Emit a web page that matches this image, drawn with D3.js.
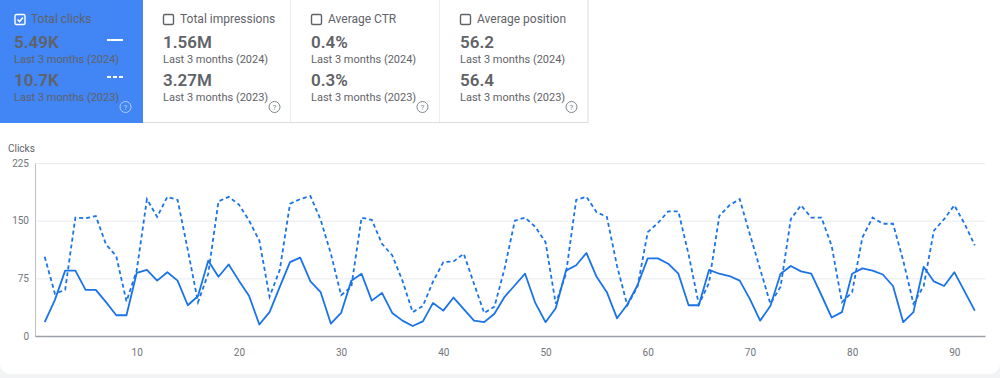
<!DOCTYPE html>
<html>
<head>
<meta charset="utf-8">
<script src="https://cdn.jsdelivr.net/npm/d3@7"></script>
<style>
  body { margin: 0; background: #f1f3f4; font-family: Roboto, "Noto Sans", sans-serif; }
  svg { display: block; }
</style>
</head>
<body>
<svg width="1000" height="378"></svg>
<script>
// daily clicks, last 3 months
const days = d3.range(1, 93);
const clicks2024 = [18, 47, 85, 85, 60, 60, 44, 27, 27, 82, 86, 72, 83, 72, 40, 52, 98, 77, 93, 72,
  52, 15, 31, 64, 96, 102, 71, 57, 16, 30, 72, 81, 46, 56, 30, 20, 13, 19, 43, 33,
  50, 35, 20, 18, 29, 51, 66, 81, 43, 18, 36, 85, 92, 108, 77, 57, 23, 41, 66, 101,
  101, 94, 81, 40, 40, 86, 81, 78, 72, 48, 20, 39, 81, 91, 84, 81, 53, 24, 31, 81,
  88, 85, 80, 65, 18, 31, 90, 71, 65, 83, 58, 33];
const clicks2023 = [103, 55, 60, 154, 153, 156, 119, 104, 45, 85, 178, 155, 181, 177, 112, 44, 81, 175, 181, 171,
  150, 124, 51, 86, 172, 178, 182, 151, 107, 53, 64, 154, 151, 120, 105, 72, 31, 39, 71, 96,
  97, 107, 68, 30, 38, 88, 150, 154, 142, 122, 42, 81, 177, 181, 161, 155, 91, 40, 64, 135,
  147, 162, 162, 106, 41, 69, 156, 170, 178, 132, 87, 42, 64, 152, 170, 154, 154, 117, 44, 57,
  128, 154, 146, 146, 98, 42, 65, 137, 152, 170, 146, 118];
const yTicks = [0, 75, 150, 225];
const xTicks = [10, 20, 30, 40, 50, 60, 70, 80, 90];

const cardTitles = ["Total clicks", "Total impressions", "Average CTR", "Average position"];
const cardValues2024 = ["5.49K", "1.56M", "0.4%", "56.2"];
const cardValues2023 = ["10.7K", "3.27M", "0.3%", "56.4"];
const periodLabels = ["Last 3 months (2024)", "Last 3 months (2023)"];

const svg = d3.select("svg");
const lineColor = "#1a73e8";

// page card
svg.append("rect")
  .attr("x", 0).attr("y", -20)
  .attr("width", 1000).attr("height", 394)
  .attr("rx", 10)
  .attr("fill", "#fff");

// metric cards
const cardX = [0, 143, 291, 440];
const cardW = [143, 148, 149, 148];
const cardH = 123;

const cards = svg.selectAll(".card")
  .data(cardTitles)
  .join("g")
  .attr("class", "card")
  .attr("transform", (d, i) => `translate(${cardX[i]},0)`);

cards.append("rect")
  .attr("width", (d, i) => cardW[i])
  .attr("height", cardH)
  .attr("fill", (d, i) => (i === 0 ? "#4285f4" : "#fff"));

// borders between the white cards
cards.filter((d, i) => i > 0).append("path")
  .attr("d", (d, i) => `M${cardW[i + 1]},0V${cardH}M0,${cardH - 0.5}H${cardW[i + 1]}`)
  .attr("stroke", "#dadce0")
  .attr("fill", "none");

const fg = (i) => (i === 0 ? "#fff" : "#5f6368");

// checkbox
cards.append("rect")
  .attr("x", (d, i) => (i === 0 ? 15 : 20.5))
  .attr("y", 14.5)
  .attr("width", 10).attr("height", 10)
  .attr("rx", 1.5)
  .attr("fill", "none")
  .attr("stroke", (d, i) => fg(i))
  .attr("stroke-width", 1.4);

cards.filter((d, i) => i === 0).append("path")
  .attr("d", "M17.5,19.5l2,2l3.5,-4")
  .attr("fill", "none")
  .attr("stroke", "#fff")
  .attr("stroke-width", 1.6);

const textX = (i) => (i === 0 ? 14 : 20);

cards.append("text")
  .attr("x", (d, i) => textX(i) + 17)
  .attr("y", 23)
  .attr("fill", fg)
  .attr("font-size", 12)
  .text((d) => d);

cards.append("text")
  .attr("x", (d, i) => textX(i))
  .attr("y", 48)
  .attr("fill", fg)
  .attr("font-size", 17)
  .attr("font-weight", 600)
  .text((d, i) => cardValues2024[i]);

cards.append("text")
  .attr("x", (d, i) => textX(i))
  .attr("y", 63)
  .attr("fill", fg)
  .attr("font-size", 11)
  .text(periodLabels[0]);

cards.append("text")
  .attr("x", (d, i) => textX(i))
  .attr("y", 86)
  .attr("fill", fg)
  .attr("font-size", 17)
  .attr("font-weight", 600)
  .text((d, i) => cardValues2023[i]);

cards.append("text")
  .attr("x", (d, i) => textX(i))
  .attr("y", 101)
  .attr("fill", fg)
  .attr("font-size", 11)
  .text(periodLabels[1]);

// help icons
const help = cards.append("g")
  .attr("transform", (d, i) => `translate(${i === 0 ? 125.5 : 131.5},107)`)
  .attr("opacity", (d, i) => (i === 0 ? 0.6 : 1));
help.append("circle")
  .attr("r", 5.5)
  .attr("fill", "none")
  .attr("stroke", (d, i) => (i === 0 ? "#fff" : "#80868b"))
  .attr("stroke-width", 1);
help.append("text")
  .attr("y", 3)
  .attr("text-anchor", "middle")
  .attr("font-size", 8)
  .attr("fill", (d, i) => (i === 0 ? "#fff" : "#80868b"))
  .text("?");

// legend marks in first card
const leg = svg.append("g");
leg.append("line")
  .attr("x1", 107).attr("x2", 123).attr("y1", 40).attr("y2", 40)
  .attr("stroke", "#fff").attr("stroke-width", 2);
leg.append("line")
  .attr("x1", 107).attr("x2", 123).attr("y1", 77).attr("y2", 77)
  .attr("stroke", "#fff").attr("stroke-width", 2)
  .attr("stroke-dasharray", "4,2");

// chart
const margin = { top: 163, left: 35, right: 15, bottom: 42 };
const width = 1000 - margin.left - margin.right;
const height = 378 - margin.top - margin.bottom;

const x = d3.scaleLinear().domain([0.05, 93]).range([0, width]);
const y = d3.scaleLinear().domain([0, 225]).range([height, 0]);

const chart = svg.append("g")
  .attr("transform", `translate(${margin.left},${margin.top})`);

svg.append("text")
  .attr("x", 8).attr("y", 152)
  .attr("font-size", 10)
  .attr("fill", "#5f6368")
  .text("Clicks");

// gridlines
chart.append("g")
  .call(d3.axisLeft(y).tickValues(yTicks).tickSize(-width).tickFormat(""))
  .call((g) => g.select(".domain").remove())
  .call((g) => g.selectAll("line").attr("stroke", "#e8eaed"));

// y labels
chart.append("g")
  .call(d3.axisLeft(y).tickValues(yTicks).tickSize(0).tickPadding(6))
  .call((g) => g.select(".domain").attr("stroke", "#bdc1c6"))
  .call((g) => g.selectAll("text")
    .attr("fill", "#70757a")
    .attr("font-size", 10)
    .attr("font-family", "Roboto, sans-serif"));

// x axis
chart.append("g")
  .attr("transform", `translate(0,${height})`)
  .call(d3.axisBottom(x).tickValues(xTicks).tickSize(0).tickPadding(13))
  .call((g) => g.select(".domain").attr("stroke", "#9aa0a6").attr("stroke-width", 1.5))
  .call((g) => g.selectAll("text")
    .attr("fill", "#70757a")
    .attr("font-size", 10)
    .attr("font-family", "Roboto, sans-serif"));

const line = (vals) => d3.line()
  .x((d, i) => x(days[i]))
  .y((d) => y(d))(vals);

chart.append("path")
  .attr("d", line(clicks2023))
  .attr("fill", "none")
  .attr("stroke", lineColor)
  .attr("stroke-width", 1.8)
  .attr("stroke-dasharray", "4,3");

chart.append("path")
  .attr("d", line(clicks2024))
  .attr("fill", "none")
  .attr("stroke", lineColor)
  .attr("stroke-width", 1.8)
  .attr("stroke-linejoin", "round");
</script>
</body>
</html>
